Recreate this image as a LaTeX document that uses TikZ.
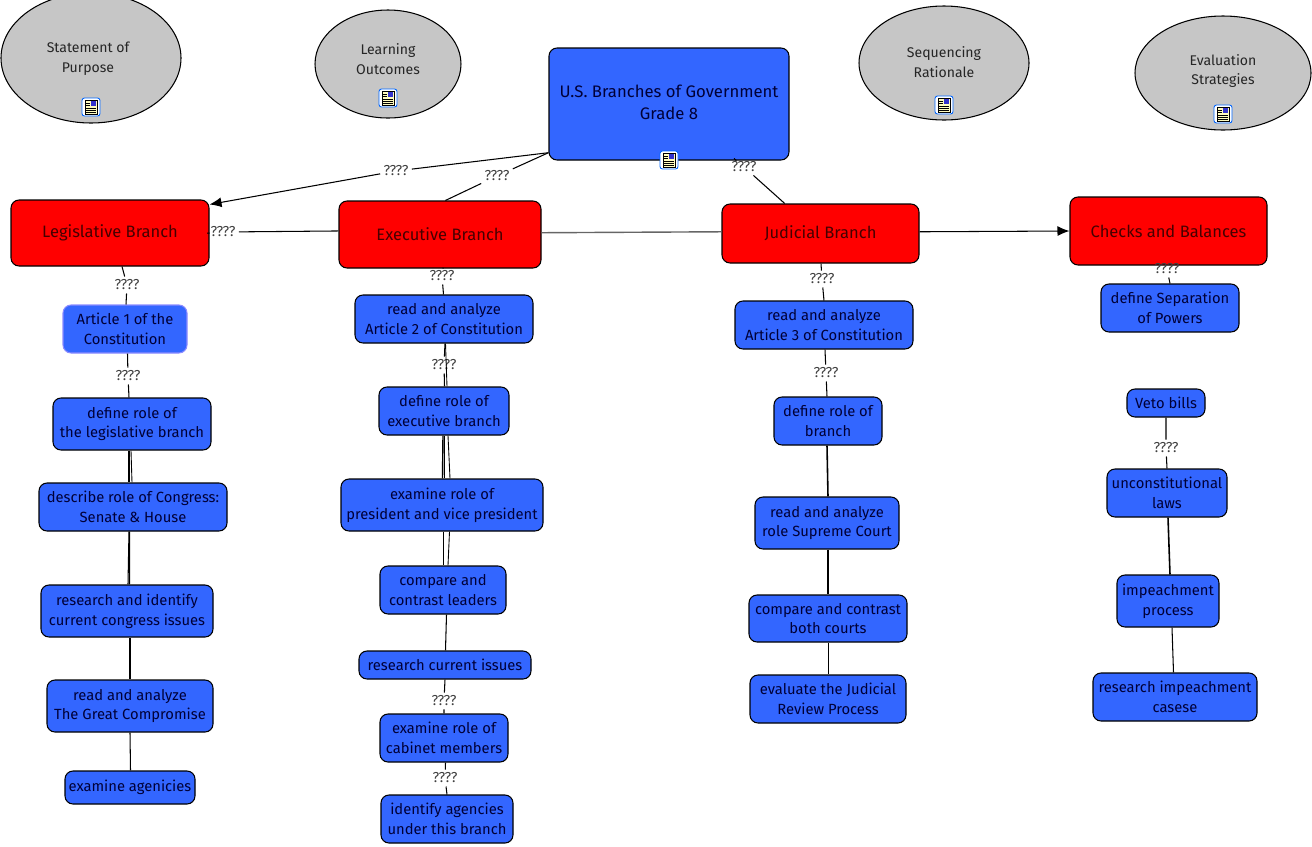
\documentclass[tikz,border=0pt]{standalone}
\usepackage{fontspec}
\setmainfont{Fira Sans}
\usepackage{xcolor}
\usetikzlibrary{arrows.meta,shapes.geometric}
\definecolor{boxblue}{RGB}{51,102,255}
\definecolor{boxred}{RGB}{255,0,0}
\definecolor{ovalgray}{RGB}{198,198,198}
\definecolor{inkblue}{RGB}{0,0,55}
\definecolor{inkred}{RGB}{70,0,0}
\tikzset{
  wh/.style 2 args={minimum width=#1*0.02cm,minimum height=#2*0.02cm},
  task/.style={draw=black,line width=0.6pt,rounded corners=0.16cm,fill=boxblue,text=inkblue,align=center,inner sep=0pt,
    font=\fontsize{8.4}{11.2}\selectfont},
  branch/.style={task,fill=boxred,text=inkred,font=\fontsize{9.4}{12}\selectfont},
  oval/.style={ellipse,draw=black,line width=0.6pt,fill=ovalgray,inner sep=0pt},
  ovaltext/.style={align=center,inner sep=0pt,text=black!85,font=\fontsize{8}{11.2}\selectfont},
  qq/.style={text=black!75,inner sep=0.06cm,font=\fontsize{8.2}{9}\selectfont},
  link/.style={line width=0.6pt,black},
  icon/.pic={
    \draw[rounded corners=0.05cm,line width=0.5pt,draw=blue!60!cyan,fill=white] (-9,-9) rectangle (9,9);
    \draw[line width=0.4pt,fill=yellow!25] (-6,-7) rectangle (6,7);
    \fill[blue!60!gray] (0,-6) rectangle (5,-1);
    \foreach \y in {-4,-1.5} \draw[line width=0.4pt] (-5,\y) -- (-1,\y);
    \foreach \y in {1,3,5} \draw[line width=0.4pt] (-5,\y) -- (5,\y);
  }
}
\begin{document}
\begin{tikzpicture}[x=0.02cm,y=-0.02cm]
  \useasboundingbox (0,0) rectangle (1312,846);

  % Ovals on top row
  \foreach \name/\x/\y/\w/\h/\tx/\ty/\txt in {
    purpose/91/58/180/130/88/59/{Statement of\\Purpose},
    outcomes/388/64/146/108/388/59/{Learning\\Outcomes},
    rationale/944/63/170/114/944/62/{Sequencing\\Rationale},
    strategies/1223/73/176/114/1223/71/{Evaluation\\Strategies}}{
    \node[oval,wh={\w}{\h}] (\name) at (\x,\y) {};
    \node[ovaltext] (\name text) at (\tx,\ty) {\txt};
  }

  % Root
  \node[task,fill=boxblue,wh={240}{112},text depth=2.3pt,font=\fontsize{9.5}{12.6}\selectfont] (root) at (669,104) {U.S. Branches of Government\\Grade 8};

  % Branches
  \foreach \name/\x/\y/\w/\h/\txt in {
    legislative/110/233/198/66/{Legislative Branch},
    executive/440/234.5/202/67/{Executive Branch},
    judicial/820.5/233.5/197/59/{Judicial Branch},
    checks/1168.5/231/197/68/{Checks and Balances}}
    \node[branch,wh={\w}{\h}] (\name) at (\x,\y) {\txt};

  % Tasks
  \node[task,draw=blue!45!white,wh={124}{48}] (article1) at (125,329) {Article 1 of the\\Constitution};
  \foreach \name/\x/\y/\w/\h/\txt in {
    defleg/132/424/158/52/{define role of\\the legislative branch},
    congress/133/507/188/48/{describe role of Congress:\\Senate \& House},
    issues/127/611/172/52/{research and identify\\current congress issues},
    compromise/130/706/166/52/{read and analyze\\The Great Compromise},
    agencies/130/787.5/130/33/{examine agenicies},
    article2/444/319/178/48/{read and analyze\\Article 2 of Constitution},
    defexec/444/411/130/48/{define role of\\executive branch},
    president/442/505/202/52/{examine role of\\president and vice president},
    leaders/443/590/126/48/{compare and\\contrast leaders},
    current/445/665/172/28/{research current issues},
    cabinet/444/738/128/48/{examine role of\\cabinet members},
    underbranch/447/819/132/48/{identify agencies\\under this branch},
    article3/824/325/178/48/{read and analyze\\Article 3 of Constitution},
    defjud/828/421/108/48/{define role of\\branch},
    supreme/827/523/144/52/{read and analyze\\role Supreme Court},
    courts/828/618.5/158/47/{compare and contrast\\both courts},
    review/828/699/156/48/{evaluate the Judicial\\Review Process},
    separation/1170/308/138/48/{define Separation\\of Powers},
    veto/1166/403/78/28/{Veto bills},
    laws/1167/493/120/48/{unconstitutional\\laws},
    impeach/1168/601/102/52/{impeachment\\process},
    casese/1175/697/164/48/{research impeachment\\casese}}
    \node[task,wh={\w}{\h}] (\name) at (\x,\y) {\txt};

  % Icons
  \pic at (91,107) {icon};
  \pic at (388,98) {icon};
  \pic at (944,105) {icon};
  \pic at (1223,114) {icon};
  \pic at (669,160) {icon};

  % Links from the root
  \node[qq] (qlegis) at (396,171) {????};
  \node[qq] (qexec) at (497,176) {????};
  \node[qq] (qjud) at (744,167) {????};
  \node[qq] (qback) at (223,232) {????};
  \draw[link] (root.202.6) -- (qlegis);
  \draw[link,-{Latex[length=0.24cm,width=0.2cm]}] (qlegis) -- (legislative.16);
  \draw[link] (root.202.6) -- (qexec) -- (executive.81.5);
  \draw[link] (root.-40.3) -- (qjud) -- (judicial.140.3);

  % Links along the branch row
  \draw[link] (executive.178.9) -- (qback) -- (legislative.east);
  \draw[link,black!60,line width=0.8pt] (executive.1) -- (judicial.179);
  \draw[link,-{Latex[length=0.24cm,width=0.2cm]}] (judicial.1) -- (checks.180.5);

  % Links with a label
  \foreach \a/\ax/\q/\x/\y/\b/\bx in {
    legislative/12/q1/127/285/article1/1,
    article1/2.5/q2/128/376/defleg/-3,
    executive/3/q3/442/276/article2/-0.5,
    article2/1/q4/444/365/defexec/0.5,
    judicial/0.5/q5/822/279/article3/0,
    article3/1/q6/826/373/defjud/-1,
    current/0/q7/444/701/cabinet/0,
    cabinet/1.5/q8/445/778/underbranch/0,
    veto/0/q10/1166/448/laws/0}{
    \node[qq] (\q) at (\x,\y) {????};
    \draw[link] ([xshift=\ax*0.02cm]\a.south) -- (\q) -- ([xshift=\bx*0.02cm]\b.north);
  }
  \node[qq] (q9) at (1167,269) {????};
  \draw[link] (q9) -- (separation.north);

  % Plain links, some of them doubled
  \foreach \a/\ax/\b/\bx/\lw in {
    defleg/-3/congress/-4/0.9,
    defleg/-1/congress/-1/0.5,
    congress/-4/issues/1/0.6,
    congress/-3.5/issues/2.5/0.6,
    issues/3/compromise/0/0.9,
    compromise/0/agencies/0.5/0.6,
    article2/1.5/defexec/3/0.5,
    defexec/-1/president/0.5/0.8,
    defexec/0.5/president/2.5/0.5,
    defexec/4/president/8/0.5,
    president/1.5/leaders/0.5/0.5,
    president/7.5/leaders/5/0.5,
    leaders/3.5/current/0.5/0.6,
    defjud/-1/supreme/1/0.9,
    supreme/1/courts/0/0.9,
    courts/0/review/0/0.5,
    laws/1/impeach/2/0.9,
    impeach/4/casese/-1.5/0.6}
    \draw[link,line width=\lw pt] ([xshift=\ax*0.02cm]\a.south) -- ([xshift=\bx*0.02cm]\b.north);
\end{tikzpicture}
\end{document}
